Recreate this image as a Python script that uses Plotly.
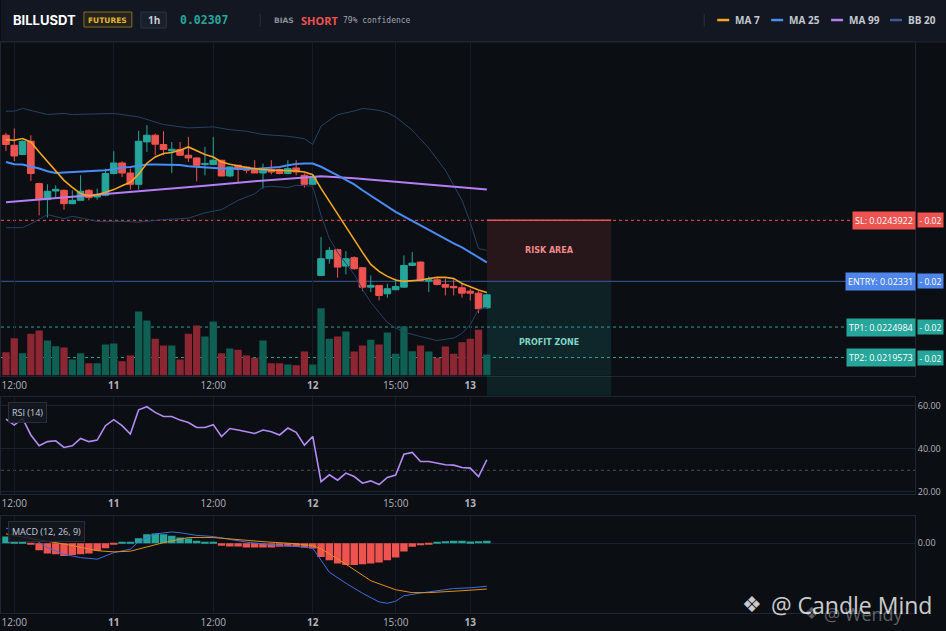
import plotly.graph_objects as go

W, H = 946, 631
FIG_H = 636  # the page is photographed slightly squeezed in height; this keeps positions on target
PLOT_W = 915  # the strip on the right holds the price / indicator scales

BG = "#0b0e13"
HEADER_BG = "#121722"
GRID = "#161b26"
BORDER = "#1f2633"
TXT = "#b2b5be"
UP = "#26a69a"
DOWN = "#ef5350"
VOL_UP = "#0f5f53"
VOL_DOWN = "#8c2632"
ENTRY_BLUE = "#4f86ec"

# ---- data: 1h candles, index 0 = day 10, 11:00 ----
opens = [0.025902, 0.025724, 0.025559, 0.025795, 0.025044, 0.024759, 0.024912, 0.024925, 0.024688, 0.024747,
         0.024925, 0.024806, 0.024836, 0.025222, 0.025410, 0.025232, 0.025031, 0.025783, 0.025902, 0.025737,
         0.025623, 0.025648, 0.025547, 0.025499, 0.025381, 0.025381, 0.025458, 0.025179, 0.025369, 0.025339,
         0.025293, 0.025232, 0.025293, 0.025293, 0.025222, 0.025321, 0.025191, 0.025031, 0.023414, 0.023711,
         0.023871, 0.023580, 0.023729, 0.023551, 0.023206, 0.023237, 0.023089, 0.023160, 0.023206, 0.023592,
         0.023651, 0.023313, 0.023338, 0.023254, 0.023219, 0.023196, 0.023135, 0.023100, 0.022840]
highs = [0.025943, 0.026021, 0.025810, 0.025902, 0.025060, 0.025031, 0.025014, 0.024940, 0.024925, 0.025191,
         0.024943, 0.024955, 0.025310, 0.025618, 0.025440, 0.025310, 0.025979, 0.026080, 0.025932, 0.025973,
         0.025783, 0.025783, 0.025872, 0.025510, 0.025694, 0.025872, 0.025465, 0.025345, 0.025375, 0.025345,
         0.025458, 0.025399, 0.025458, 0.025310, 0.025458, 0.025458, 0.025222, 0.025191, 0.024095, 0.023917,
         0.023889, 0.023846, 0.023752, 0.023560, 0.023414, 0.023245, 0.023267, 0.023356, 0.023770, 0.023828,
         0.023663, 0.023397, 0.023384, 0.023356, 0.023356, 0.023267, 0.023178, 0.023135, 0.023089]
lows = [0.025623, 0.025445, 0.025547, 0.025090, 0.024480, 0.024440, 0.024783, 0.024582, 0.024676, 0.024747,
        0.024747, 0.024759, 0.024818, 0.025209, 0.025161, 0.024937, 0.024937, 0.025605, 0.025547, 0.025547,
        0.025232, 0.025540, 0.025428, 0.025085, 0.025191, 0.025375, 0.025175, 0.025161, 0.025072, 0.025227,
        0.025232, 0.024955, 0.025209, 0.025209, 0.025209, 0.025191, 0.024973, 0.025014, 0.023405, 0.023622,
        0.023373, 0.023432, 0.023516, 0.023135, 0.023118, 0.022970, 0.023018, 0.023155, 0.023196, 0.023580,
        0.023313, 0.023118, 0.023237, 0.023059, 0.023059, 0.023018, 0.022970, 0.022744, 0.022823]
closes = [0.025737, 0.025534, 0.025795, 0.025222, 0.024759, 0.024907, 0.024943, 0.024688, 0.024747, 0.024907,
          0.024795, 0.024836, 0.025222, 0.025410, 0.025232, 0.025031, 0.025795, 0.025902, 0.025742, 0.025648,
          0.025653, 0.025547, 0.025499, 0.025369, 0.025399, 0.025458, 0.025179, 0.025339, 0.025293, 0.025280,
          0.025232, 0.025293, 0.025250, 0.025222, 0.025310, 0.025250, 0.025031, 0.025161, 0.023711, 0.023859,
          0.023562, 0.023711, 0.023533, 0.023206, 0.023237, 0.023059, 0.023178, 0.023219, 0.023592, 0.023633,
          0.023325, 0.023338, 0.023254, 0.023206, 0.023196, 0.023100, 0.023100, 0.022823, 0.023070]
volumes = [233, 373, 223, 417, 450, 350, 293, 280, 160, 223,
           123, 123, 310, 320, 143, 200, 640, 550, 367, 300,
           300, 160, 417, 500, 390, 540, 223, 270, 257, 200,
           177, 350, 123, 123, 110, 103, 240, 110, 673, 367,
           390, 440, 240, 300, 357, 310, 430, 217, 490, 243,
           300, 240, 177, 290, 217, 333, 367, 457, 210]

ma7 = [0.025822, 0.025813, 0.025843, 0.025783, 0.025605, 0.025440, 0.025280, 0.025102, 0.024978, 0.024866,
       0.024823, 0.024845, 0.024889, 0.024937, 0.025005, 0.025067, 0.025209, 0.025405, 0.025516, 0.025577,
       0.025595, 0.025636, 0.025694, 0.025623, 0.025559, 0.025516, 0.025428, 0.025387, 0.025351, 0.025328,
       0.025310, 0.025293, 0.025280, 0.025280, 0.025280, 0.025268, 0.025250, 0.025200, 0.024960, 0.024729,
       0.024516, 0.024285, 0.024036, 0.023823, 0.023610, 0.023485, 0.023397, 0.023334, 0.023308, 0.023317,
       0.023334, 0.023361, 0.023379, 0.023379, 0.023361, 0.023272, 0.023210, 0.023157, 0.023112]
ma25 = [0.025428, 0.025387, 0.025381, 0.025351, 0.025310, 0.025262, 0.025232, 0.025239, 0.025245, 0.025257,
        0.025262, 0.025268, 0.025280, 0.025298, 0.025328, 0.025339, 0.025357, 0.025381, 0.025381, 0.025381,
        0.025381, 0.025374, 0.025351, 0.025339, 0.025328, 0.025321, 0.025310, 0.025310, 0.025303, 0.025303,
        0.025303, 0.025316, 0.025328, 0.025339, 0.025369, 0.025392, 0.025399, 0.025399, 0.025342, 0.025271,
        0.025191, 0.025111, 0.025031, 0.024925, 0.024827, 0.024729, 0.024632, 0.024543, 0.024463, 0.024383,
        0.024303, 0.024214, 0.024143, 0.024063, 0.023983, 0.023912, 0.023823, 0.023734, 0.023645]
ma99_idx = [0, 6, 12, 18, 24, 30, 36, 38, 42, 46, 52, 58]
ma99 = [0.024711, 0.024783, 0.024862, 0.024934, 0.025005, 0.025085,
        0.025156, 0.025174, 0.025138, 0.025085, 0.025014, 0.024937]
bb_up_idx = [0, 1, 2, 5, 7, 8, 13, 16, 19, 22, 25, 27, 29, 31, 34, 36, 37, 38,
             39, 40, 42, 43, 44, 45, 46, 47, 49, 51, 52, 53, 54, 55, 56, 57, 58]
bb_up = [0.026329, 0.026329, 0.026377, 0.026270, 0.026288, 0.026270, 0.026288, 0.026227, 0.026092,
         0.026032, 0.026050, 0.026000, 0.025973, 0.025915, 0.025884, 0.025840, 0.025737, 0.026062,
         0.026169, 0.026266, 0.026332, 0.026377, 0.026364, 0.026341, 0.026302, 0.026227, 0.025991,
         0.025671, 0.025476, 0.025280, 0.025014, 0.024747, 0.024356, 0.023890, 0.023860]
bb_lo_idx = [0, 2, 3, 4, 5, 7, 8, 9, 11, 14, 16, 19, 22, 24, 26, 28, 30, 31, 32, 34,
             35, 37, 38, 39, 40, 41, 42, 43, 44, 45, 46, 47, 48, 50, 52, 54, 55, 56, 57, 58]
bb_lo = [0.024262, 0.024262, 0.024329, 0.024418, 0.024493, 0.024422, 0.024463, 0.024436, 0.024374, 0.024374,
         0.024361, 0.024404, 0.024431, 0.024525, 0.024582, 0.024747, 0.024862, 0.024983, 0.024996, 0.024973,
         0.025014, 0.024996, 0.024480, 0.024072, 0.023823, 0.023628, 0.023432, 0.023166, 0.022935, 0.022757,
         0.022579, 0.022481, 0.022410, 0.022330, 0.022259, 0.022304, 0.022384, 0.022544, 0.022810, 0.022851]

rsi = [53.8, 51.0, 54.1, 46.4, 41.4, 43.3, 43.7, 40.6, 41.4, 44.8,
       43.3, 44.0, 50.7, 53.5, 50.7, 46.8, 58.1, 59.5, 56.9, 55.0,
       55.0, 53.3, 52.2, 49.9, 49.9, 51.2, 45.7, 49.4, 48.7, 47.9,
       47.1, 48.7, 47.9, 46.4, 49.6, 47.6, 41.7, 45.7, 24.7, 27.9,
       25.4, 28.7, 27.1, 24.0, 25.1, 23.4, 26.7, 27.8, 37.5, 38.3,
       34.1, 34.1, 33.3, 32.6, 32.4, 31.3, 31.0, 27.1, 34.9]

macd_hist = [0.000067, 0.000013, 0.000013, -0.000017, -0.000070, -0.000103, -0.000110, -0.000127, -0.000117, -0.000110,
             -0.000103, -0.000077, -0.000050, -0.000007, 0.000007, 0.000010, 0.000050, 0.000090, 0.000097, 0.000090,
             0.000073, 0.000057, 0.000047, 0.000023, 0.000007, 0.000007, -0.000027, -0.000033, -0.000033, -0.000043,
             -0.000043, -0.000043, -0.000043, -0.000037, -0.000033, -0.000037, -0.000043, -0.000053, -0.000137, -0.000170,
             -0.000203, -0.000217, -0.000217, -0.000210, -0.000203, -0.000193, -0.000170, -0.000143, -0.000083, -0.000037,
             -0.000020, -0.000007, 0.000013, 0.000020, 0.000023, 0.000023, 0.000017, 0.000020, 0.000023]
macd_idx = [0, 1, 3, 5, 7, 9, 11, 13, 15, 16, 18, 20, 21, 23, 25, 27, 29,
            31, 33, 35, 37, 38, 39, 41, 43, 45, 46, 47, 48, 50, 52, 54, 56, 58]
macd_line = [0.000150, 0.000123, 0.000056, -0.000044, -0.000112, -0.000144, -0.000160, -0.000095, -0.000060,
             0.000015, 0.000092, 0.000112, 0.000104, 0.000078, 0.000066, 0.000040, 0.000010, -0.000007,
             -0.000024, -0.000033, -0.000050, -0.000170, -0.000290, -0.000400, -0.000500, -0.000587, -0.000600,
             -0.000580, -0.000525, -0.000498, -0.000475, -0.000453, -0.000446, -0.000430]
signal_idx = [0, 3, 7, 11, 13, 15, 19, 22, 25, 28, 31, 35, 37, 38, 41, 44, 47, 49, 51, 55, 58]
signal_line = [0.000093, 0.000045, -0.000008, -0.000075, -0.000087, -0.000080, 0.000005, 0.000056, 0.000056,
               0.000034, 0.000015, -0.000006, -0.000025, -0.000055, -0.000210, -0.000375, -0.000465, -0.000494,
               -0.000494, -0.000475, -0.000458]

tick_idx = [1, 13, 25, 37, 47, 56]
tick_text = ["12:00", "<b>11</b>", "12:00", "<b>12</b>", "15:00", "<b>13</b>"]

sl_price = 0.0243922
entry_price = 0.02331
tp1_price = 0.0224984
tp2_price = 0.0219573
zone_start, zone_end = 58, 73

price_range = [0.021637, 0.027555]
x_range = [-0.6, 109.64]

idx = list(range(len(closes)))


def fx(px):
    return px / PLOT_W


def fy(py):
    return 1 - py / H


main_dom = [fy(375), fy(42)]
rsi_dom = [fy(493), fy(396)]
macd_dom = [fy(612), fy(515)]

fig = go.Figure()

# volume underneath everything in the main pane
vol_colors = [VOL_UP if c >= o else VOL_DOWN for o, c in zip(opens, closes)]
fig.add_trace(go.Bar(x=idx, y=volumes, marker_color=vol_colors, marker_line_width=0,
                     width=0.88, xaxis="x", yaxis="y"))

# bands and moving averages
for xs, ys, color, w in [
    (bb_up_idx, bb_up, "#2a4068", 1),
    (bb_lo_idx, bb_lo, "#2a4068", 1),
    (ma99_idx, ma99, "#b57ef6", 2),
    (idx, ma25, "#4a8cf7", 2),
    (idx, ma7, "#f5a623", 1.6),
]:
    fig.add_trace(go.Scatter(x=xs, y=ys, mode="lines", line=dict(color=color, width=w),
                             xaxis="x", yaxis="y4"))

fig.add_trace(go.Candlestick(
    x=idx, open=opens, high=highs, low=lows, close=closes,
    increasing=dict(line=dict(color=UP, width=1), fillcolor=UP),
    decreasing=dict(line=dict(color=DOWN, width=1), fillcolor=DOWN),
    whiskerwidth=0, xaxis="x", yaxis="y4",
))

# RSI pane
fig.add_trace(go.Scatter(x=idx, y=rsi, mode="lines", line=dict(color="#b48cf7", width=1.6),
                         xaxis="x2", yaxis="y2"))

# MACD pane
hist_colors = [UP if v >= 0 else DOWN for v in macd_hist]
fig.add_trace(go.Bar(x=idx, y=macd_hist, marker_color=hist_colors, marker_line_width=0,
                     width=0.9, xaxis="x3", yaxis="y3"))
fig.add_trace(go.Scatter(x=macd_idx, y=macd_line, mode="lines", line=dict(color="#3f6fd8", width=1),
                         xaxis="x3", yaxis="y3"))
fig.add_trace(go.Scatter(x=signal_idx, y=signal_line, mode="lines", line=dict(color="#e0901c", width=1),
                         xaxis="x3", yaxis="y3"))

xcommon = dict(range=x_range, tickvals=tick_idx, ticktext=tick_text, showgrid=True, gridcolor=GRID,
               gridwidth=1, zeroline=False, showline=True, linecolor=BORDER, mirror=True, ticks="",
               tickfont=dict(size=10, color=TXT), fixedrange=True)

fig.update_layout(
    width=W, height=FIG_H,
    margin=dict(l=0, r=W - PLOT_W, t=0, b=0),
    paper_bgcolor=BG, plot_bgcolor=BG,
    showlegend=False, hovermode=False,
    boxgap=0.2, boxgroupgap=0,
    font=dict(family="Open Sans", color=TXT),
    xaxis=dict(**xcommon, anchor="y", domain=[0, 1], rangeslider=dict(visible=False)),
    xaxis2=dict(**xcommon, anchor="y2", domain=[0, 1]),
    xaxis3=dict(**xcommon, anchor="y3", domain=[0, 1]),
    yaxis=dict(domain=main_dom, range=[0, 3330], showgrid=False, showticklabels=False, zeroline=False,
               showline=True, linecolor=BORDER, mirror=True, fixedrange=True),
    yaxis4=dict(overlaying="y", range=price_range, showgrid=False, showticklabels=False, zeroline=False,
                side="right", fixedrange=True),
    yaxis2=dict(domain=rsi_dom, range=[19.1, 64.2], tickvals=[20, 40, 60], tickformat=".2f", side="right",
                showgrid=True, gridcolor="#1c2230", zeroline=False, showline=True, linecolor=BORDER,
                mirror=True, ticks="", tickfont=dict(size=9, color=TXT), fixedrange=True),
    yaxis3=dict(domain=macd_dom, range=[-0.000697, 0.000273], tickvals=[0], ticktext=["0.00"],
                side="right", showgrid=True, gridcolor="#1c2230", zeroline=False, showline=True,
                linecolor=BORDER, mirror=True, ticks="", tickfont=dict(size=9, color=TXT), fixedrange=True),
)

shapes = []
ann = []

# header bar
shapes.append(dict(type="rect", xref="paper", yref="paper", x0=0, x1=fx(W), y0=fy(42), y1=1,
                   fillcolor=HEADER_BG, line_width=0, layer="below"))
shapes.append(dict(type="line", xref="paper", yref="paper", x0=0, x1=fx(W), y0=fy(42), y1=fy(42),
                   line=dict(color="#1e2431", width=1)))
shapes.append(dict(type="rect", xref="paper", yref="paper", x0=fx(83), x1=fx(131), y0=fy(27), y1=fy(12),
                   fillcolor="rgba(240,185,11,0.08)", line=dict(color="#8a6d1f", width=1)))
shapes.append(dict(type="rect", xref="paper", yref="paper", x0=fx(140), x1=fx(165.5), y0=fy(28), y1=fy(12),
                   fillcolor="#1a202b", line=dict(color="#2b3342", width=1)))
for sx in (259.5, 704):
    shapes.append(dict(type="line", xref="paper", yref="paper", x0=fx(sx), x1=fx(sx), y0=fy(27), y1=fy(14),
                       line=dict(color="#2a3040", width=1)))


def header_text(px, text, size, color, family="Open Sans", anchor="left"):
    ann.append(dict(xref="paper", yref="paper", x=fx(px), y=fy(20), text=text, showarrow=False,
                    xanchor=anchor, yanchor="middle", font=dict(size=size, color=color, family=family)))


header_text(10, "<b>BILLUSDT</b>", 13, "#ffffff", "Inter")
header_text(107, "<b>FUTURES</b>", 7.5, "#e8b923", "DejaVu Sans", "center")
header_text(153, "<b>1h</b>", 10, "#c9cdd6", "Open Sans", "center")
header_text(177, "<b>0.02307</b>", 11.5, UP, "DejaVu Sans Mono")
header_text(271, "<b>BIAS</b>", 7.5, "#8b909b", "DejaVu Sans")
header_text(298, "<b>SHORT</b>", 11, DOWN)
header_text(340, "79% confidence", 8, "#a3a7b0", "DejaVu Sans Mono")

legend_items = [("MA 7", "#f5a623", 717, 733), ("MA 25", "#4a8cf7", 771, 787),
                ("MA 99", "#b57ef6", 831, 847), ("BB 20", "#3a5a9a", 890, 906)]
for name, color, lx, tx in legend_items:
    shapes.append(dict(type="line", xref="paper", yref="paper", x0=fx(lx), x1=fx(lx + 12), y0=fy(20),
                       y1=fy(20), line=dict(color=color, width=2.5)))
    header_text(tx, "<b>%s</b>" % name, 10, "#c4c8d0")

# risk / profit zones
shapes.append(dict(type="rect", xref="x", yref="y4", x0=zone_start, x1=zone_end, y0=entry_price, y1=sl_price,
                   fillcolor="rgba(239,83,80,0.13)", line_width=0, layer="below"))
shapes.append(dict(type="rect", xref="x", yref="y4", x0=zone_start, x1=zone_end, y0=price_range[0],
                   y1=entry_price, fillcolor="rgba(38,166,154,0.13)", line_width=0, layer="below"))
shapes.append(dict(type="rect", xref="x", yref="y4", x0=zone_start, x1=zone_end, y0=tp2_price,
                   y1=tp1_price, fillcolor="rgba(38,166,154,0.05)", line_width=0, layer="below"))
shapes.append(dict(type="rect", xref="x", yref="paper", x0=zone_start, x1=zone_end, y0=fy(395), y1=fy(375),
                   fillcolor="rgba(38,166,154,0.13)", line_width=0, layer="above"))
shapes.append(dict(type="line", xref="x", yref="y4", x0=zone_start, x1=zone_end, y0=sl_price, y1=sl_price,
                   line=dict(color=DOWN, width=1.5), layer="below"))
ann.append(dict(xref="x", yref="y4", x=(zone_start + zone_end) / 2, y=(sl_price + entry_price) / 2,
                text="<b>RISK AREA</b>", showarrow=False, font=dict(size=8, color="#f08a8a", family="DejaVu Sans")))
ann.append(dict(xref="x", yref="y4", x=(zone_start + zone_end) / 2, y=(tp1_price + tp2_price) / 2,
                text="<b>PROFIT ZONE</b>", showarrow=False, font=dict(size=8, color="#7fd6c6", family="DejaVu Sans")))

# price lines with their labels
price_lines = [("SL", sl_price, DOWN, DOWN, "dot"), ("ENTRY", entry_price, "#3d5c9e", ENTRY_BLUE, "solid"),
               ("TP1", tp1_price, UP, UP, "dot"), ("TP2", tp2_price, UP, UP, "dot")]
for name, price, lcolor, bg, dash in price_lines:
    shapes.append(dict(type="line", xref="x", yref="y4", x0=x_range[0], x1=x_range[1], y0=price, y1=price,
                       line=dict(color=lcolor, width=1, dash=dash), layer="below"))
    ann.append(dict(xref="paper", yref="y4", x=fx(916.5), y=price, xanchor="right", yanchor="middle",
                    text="%s: %s" % (name, price), showarrow=False, bgcolor=bg, borderpad=2,
                    font=dict(size=9, color="#ffffff")))
    ann.append(dict(xref="paper", yref="y4", x=fx(917.5), y=price, xanchor="left", yanchor="middle",
                    text="- 0.02", showarrow=False, bgcolor=bg, borderpad=1.5,
                    font=dict(size=8.5, color="#ffffff")))

# RSI 30 level
shapes.append(dict(type="line", xref="x2", yref="y2", x0=x_range[0], x1=x_range[1], y0=30, y1=30,
                   line=dict(color="#4a4f5c", width=1, dash="dot"), layer="below"))

# pane titles
for label, py in [("RSI (14)", 412), ("MACD (12, 26, 9)", 531)]:
    ann.append(dict(xref="paper", yref="paper", x=fx(7), y=fy(py), xanchor="left", yanchor="middle",
                    text=label, showarrow=False, bgcolor="rgba(19,23,34,0.85)", bordercolor="#2a2e39",
                    borderwidth=1, borderpad=3, font=dict(size=9, color="#c8ccd6")))

# watermark
ann.append(dict(xref="paper", yref="paper", x=fx(811), y=fy(612), xanchor="center", yanchor="middle",
                text="❖", showarrow=False, font=dict(size=17, color="rgba(255,255,255,0.35)", family="DejaVu Sans")))
ann.append(dict(xref="paper", yref="paper", x=fx(822), y=fy(613), xanchor="left", yanchor="middle",
                text="@ Wendy", showarrow=False, font=dict(size=18, color="rgba(255,255,255,0.35)")))
ann.append(dict(xref="paper", yref="paper", x=fx(752), y=fy(604), xanchor="center", yanchor="middle",
                text="❖", showarrow=False, font=dict(size=22, color="rgba(255,255,255,0.8)", family="DejaVu Sans")))
ann.append(dict(xref="paper", yref="paper", x=fx(769), y=fy(604), xanchor="left", yanchor="middle",
                text="@ Candle Mind", showarrow=False, font=dict(size=23, color="rgba(255,255,255,0.8)")))

fig.update_layout(shapes=shapes, annotations=ann)
fig.write_html("out.html", config={"displayModeBar": False},
               post_script="document.body.style.margin='0';document.body.style.overflow='hidden';")
